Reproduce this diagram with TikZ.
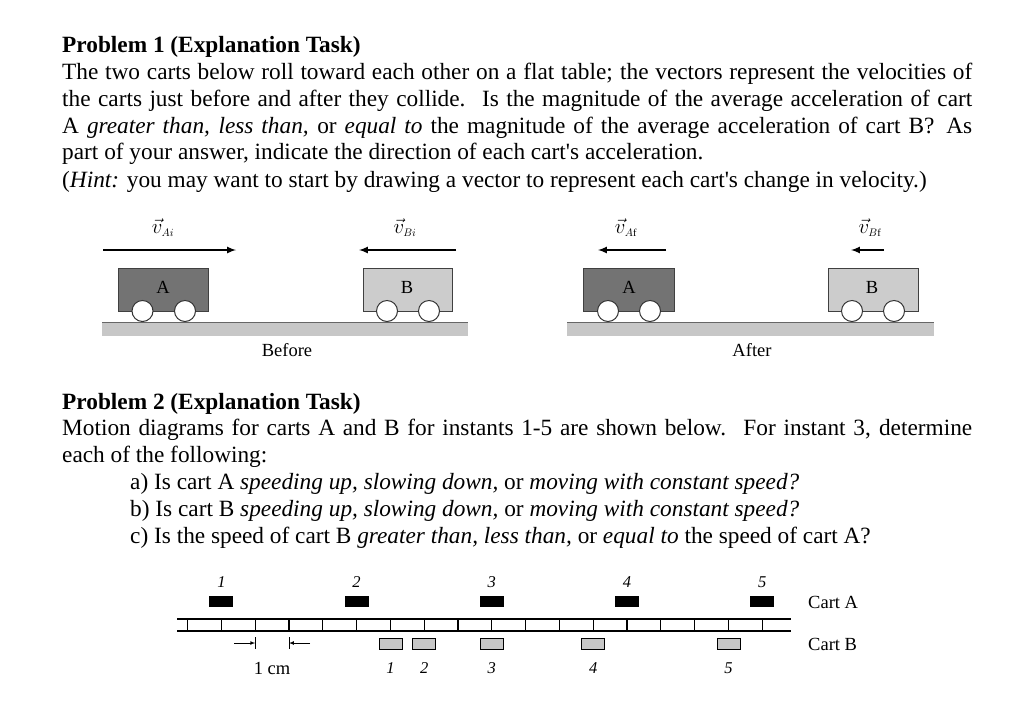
\documentclass[tikz,border=0pt]{standalone}
\usepackage{fontspec}
\setmainfont{Liberation Serif}
\begin{document}
\begin{tikzpicture}[x=1pt,y=-1pt,
  txt/.style={anchor=base west,inner sep=0pt,font=\fontsize{23.3}{27}\selectfont},
  sm/.style={inner sep=0pt,font=\fontsize{18.5}{22}\selectfont},
  num/.style={inner sep=0pt,font=\fontsize{16.5}{20}\selectfont\itshape},
  vl/.style={inner sep=0pt,font=\fontsize{21}{24}\selectfont},
  table/.style={fill=black!22,draw=none},
  cartA/.style={fill=black!55,draw=black!75,line width=1pt},
  cartB/.style={fill=black!20,draw=black!75,line width=1pt},
  wheel/.style={circle,fill=white,draw=black!80,line width=1pt,minimum size=21pt,inner sep=0pt},
  vec/.style={-latex,line width=2pt},
  box/.style={inner sep=0pt}]
\useasboundingbox (0,0) rectangle (1024,705);
% Problem 1 text
\node[txt] (t1) at (62,52) {\bfseries Problem 1 (Explanation Task)};
\node[txt] (l1) at (62,79) {\makebox[910pt][s]{The two carts below roll toward each other on a flat table; the vectors represent the velocities of}};
\node[txt] (l2) at (62,106) {\makebox[910pt][s]{the carts just before and after they collide. \,Is the magnitude of the average acceleration of cart}};
\node[txt] (l3) at (62,133) {\makebox[910pt][s]{A \textit{greater than, less than,} or \textit{equal to} the magnitude of the average acceleration of cart B? \,As}};
\node[txt] (l4) at (62,159) {part of your answer, indicate the direction of each cart\textquotesingle s acceleration.};
\node[txt] (l5) at (62,187) {(\textit{Hint:} you may want to start by drawing a vector to represent each cart\textquotesingle s change in velocity.)};
% Before
\fill[table] (102,322) rectangle (468,336);
\draw[black!60,line width=0.8pt] (102,322) -- (468,322);
\draw[cartA] (118,268) rectangle (208,311);
\node[sm] (la) at (163,287) {A};
\node[wheel] (w1) at (142.5,311) {};
\node[wheel] (w2) at (185,311) {};
\draw[cartB] (363,268) rectangle (452,311);
\node[sm] (lb) at (407,287) {B};
\node[wheel] (w3) at (387,311) {};
\node[wheel] (w4) at (429,311) {};
\coordinate (a1s) at (103,250); \coordinate (a1e) at (236,250);
\draw[vec] (a1s) -- (a1e);
\coordinate (b1s) at (456,250); \coordinate (b1e) at (359,250);
\draw[vec] (b1s) -- (b1e);
\node[vl] (vai) at (163,228) {$\vec{v}_{\scriptscriptstyle Ai}$};
\node[vl] (vbi) at (405,228) {$\vec{v}_{\scriptscriptstyle Bi}$};
\node[sm] (before) at (287,350) {Before};
% After
\fill[table] (567,322) rectangle (934,336);
\draw[black!60,line width=0.8pt] (567,322) -- (934,322);
\draw[cartA] (583,268) rectangle (674,311);
\node[sm] (la2) at (629,287) {A};
\node[wheel] (w5) at (608,311) {};
\node[wheel] (w6) at (650,311) {};
\draw[cartB] (828,268) rectangle (918,311);
\node[sm] (lb2) at (872,287) {B};
\node[wheel] (w7) at (852,311) {};
\node[wheel] (w8) at (894,311) {};
\coordinate (a2s) at (666,250); \coordinate (a2e) at (598,250);
\draw[vec] (a2s) -- (a2e);
\coordinate (b2s) at (884,250); \coordinate (b2e) at (851,250);
\draw[vec] (b2s) -- (b2e);
\node[vl] (vaf) at (626,228) {$\vec{v}_{\scriptscriptstyle A\mathrm{f}}$};
\node[vl] (vbf) at (870,228) {$\vec{v}_{\scriptscriptstyle B\mathrm{f}}$};
\node[sm] (after) at (752,350) {After};
% Problem 2 text
\node[txt] (t2) at (62,409) {\bfseries Problem 2 (Explanation Task)};
\node[txt] (m1) at (62,435) {\makebox[910pt][s]{Motion diagrams for carts A and B for instants 1-5 are shown below. \,For instant 3, determine}};
\node[txt] (m2) at (62,462) {each of the following:};
\node[txt] (m3) at (130,489) {a) Is cart A \textit{speeding up, slowing down,} or \textit{moving with constant speed?}};
\node[txt] (m4) at (130,516) {b) Is cart B \textit{speeding up, slowing down,} or \textit{moving with constant speed?}};
\node[txt] (m5) at (130,543) {c) Is the speed of cart B \textit{greater than, less than,} or \textit{equal to} the speed of cart A?};
% motion diagram
\draw[line width=1.2pt] (177,619) -- (791,619);
\draw[line width=1.2pt] (177,631) -- (791,631);
\foreach \k in {0,...,17} {\draw[line width=1.2pt] ({187.6+33.8*\k},619) -- ({187.6+33.8*\k},631);}
\foreach \k/\n in {1/1,5/2,9/3,13/4,17/5} {
  \fill ({187.6+33.8*\k-12},596) rectangle ({187.6+33.8*\k+12},607);
  \node[num] (na\n) at ({187.6+33.8*\k},582) {\n};}
\foreach \k/\n in {6/1,7/2,9/3,12/4,16/5} {
  \draw[fill=black!22,line width=0.8pt] ({187.6+33.8*\k-11.5},638) rectangle ({187.6+33.8*\k+11.5},649);
  \node[num] (nb\n) at ({187.6+33.8*\k},668) {\n};}
\node[sm,anchor=west] (ca) at (808,602) {Cart A};
\node[sm,anchor=west] (cb) at (808,644) {Cart B};
\coordinate (r1) at (255.2,643); \coordinate (r2) at (289,643);
\draw[line width=0.7pt] (255.2,637) -- (255.2,649);
\draw[line width=0.7pt] (289,637) -- (289,649);
\draw[-latex,line width=0.7pt] (234,643) -- (r1);
\draw[-latex,line width=0.7pt] (310,643) -- (r2);
\node[sm] (cm) at (272,668) {1 cm};
\end{tikzpicture}
\end{document}
